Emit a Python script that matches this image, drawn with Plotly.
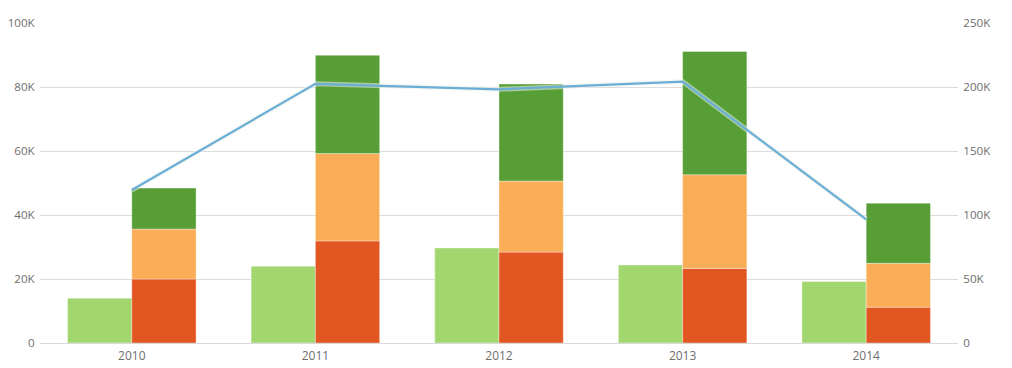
import numpy as np
import plotly.graph_objects as go

years = ["2010", "2011", "2012", "2013", "2014"]
single = [14.0, 24.0, 29.7, 24.4, 19.2]          # K, light green bar
stack_red = [20.0, 31.9, 28.4, 23.3, 11.2]        # K
stack_orange = [15.6, 27.3, 22.2, 29.3, 13.7]     # K
stack_green = [12.8, 30.7, 30.3, 38.5, 18.8]      # K
line_vals = [119.5, 202.5, 198.2, 204.2, 96.6]    # K, right axis

left_ticks = [0, 20, 40, 60, 80, 100]
left_text = ["0", "20K", "40K", "60K", "80K", "100K"]
right_ticks = [0, 50, 100, 150, 200, 250]
right_text = ["0", "50K", "100K", "150K", "200K", "250K"]

k = 1000
red = np.array(stack_red) * k
orange = np.array(stack_orange) * k
green = np.array(stack_green) * k

edge = dict(color="rgba(255,255,255,0.35)", width=1)

fig = go.Figure()
fig.add_trace(go.Bar(x=years, y=np.array(single) * k, offsetgroup="a",
                     marker=dict(color="#a2d770", line=edge), name="A"))
fig.add_trace(go.Bar(x=years, y=red, offsetgroup="b",
                     marker=dict(color="#e25622", line=edge), name="B1"))
fig.add_trace(go.Bar(x=years, y=orange, base=red, offsetgroup="b",
                     marker=dict(color="#f9ad56", line=edge), name="B2"))
fig.add_trace(go.Bar(x=years, y=green, base=red + orange, offsetgroup="b",
                     marker=dict(color="#579e37", line=edge), name="B3"))
fig.add_trace(go.Scatter(x=years, y=np.array(line_vals) * k, yaxis="y2", mode="lines",
                         line=dict(color="rgba(235,240,235,0.55)", width=5),
                         hoverinfo="skip", name="halo"))
fig.add_trace(go.Scatter(x=years, y=np.array(line_vals) * k, yaxis="y2", mode="lines",
                         line=dict(color="#6aaed6", width=2.2), name="L"))

xfont = dict(family="Open Sans, sans-serif", size=12, color="#6e6e6e")
yfont = dict(family="Open Sans, sans-serif", size=11.6, color="#6e6e6e")
fig.update_layout(
    width=1012, height=368,
    margin=dict(l=32, r=62, t=15, b=33),
    paper_bgcolor="white", plot_bgcolor="white",
    barmode="group", bargap=0.3, bargroupgap=0,
    showlegend=False,
    xaxis=dict(type="category", showgrid=False, showline=True, linecolor="#d9d9d9",
               linewidth=1, ticks="outside", ticklen=2, tickcolor="rgba(0,0,0,0)",
               tickfont=xfont, automargin=False),
    yaxis=dict(range=[0, 100 * k], tickvals=[v * k for v in left_ticks], ticktext=left_text,
               showgrid=True, gridcolor="#dcdcdc", gridwidth=1, zeroline=False,
               ticks="outside", ticklen=2, tickcolor="rgba(0,0,0,0)", tickfont=yfont,
               automargin=False),
    yaxis2=dict(range=[0, 250 * k], tickvals=[v * k for v in right_ticks], ticktext=right_text,
                overlaying="y", side="right", showgrid=False, zeroline=False,
                ticks="outside", ticklen=2, tickcolor="rgba(0,0,0,0)", tickfont=yfont,
                automargin=False),
)

fig.write_html("out.html")
